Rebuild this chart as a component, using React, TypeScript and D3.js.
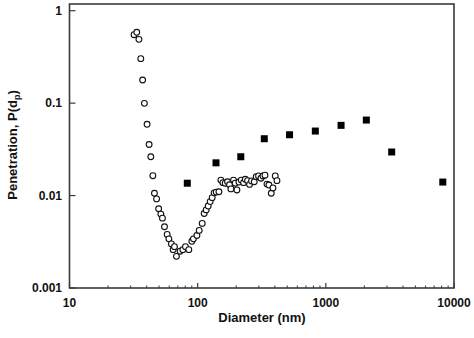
import React from "react";
import * as d3 from "d3";

const circleDiam = [31.9, 33.5, 34.8, 36.0, 37.2, 38.4, 40.3, 41.8, 43.1, 44.7, 46.0, 47.8, 49.6, 51.6, 53.1, 55.1, 57.8, 59.6, 62.4, 64.4, 65.9, 68.3, 73.0, 76.6, 80.3, 85.3, 90.1, 92.7, 98.6, 102.8, 108.5, 112.4, 116.5, 120.8, 125.2, 129.8, 134.5, 139.5, 146.5, 151.8, 157.4, 164.0, 171.0, 177.2, 181.7, 190.4, 196.3, 202.4, 209.9, 218.8, 228.1, 235.2, 245.0, 254.0, 263.2, 276.3, 286.4, 298.5, 311.6, 323.0, 335.1, 347.4, 359.9, 375.1, 386.9, 403.0, 415.5];
const circlePen = [0.550, 0.584, 0.490, 0.303, 0.178, 0.0995, 0.0590, 0.0357, 0.0263, 0.0164, 0.0106, 0.0092, 0.0072, 0.0063, 0.0057, 0.0046, 0.0038, 0.0034, 0.0030, 0.0026, 0.0028, 0.0022, 0.0025, 0.0026, 0.0028, 0.0026, 0.0032, 0.0034, 0.0037, 0.0042, 0.0050, 0.0064, 0.0070, 0.0077, 0.0086, 0.0095, 0.0107, 0.0109, 0.0110, 0.0147, 0.0138, 0.0136, 0.0141, 0.0131, 0.0118, 0.0147, 0.0136, 0.0115, 0.0140, 0.0147, 0.0138, 0.0150, 0.0145, 0.0132, 0.0144, 0.0141, 0.0160, 0.0163, 0.0154, 0.0163, 0.0166, 0.0133, 0.0130, 0.0106, 0.0121, 0.0163, 0.0145];

const squareDiam = [83, 139, 217, 331, 521, 828, 1315, 2070, 3265, 8177];
const squarePen = [0.0136, 0.0226, 0.0263, 0.0412, 0.0455, 0.0499, 0.0575, 0.0656, 0.0296, 0.0140];

const xTicks = [10, 100, 1000, 10000];
const xTickLabels = ["10", "100", "1000", "10000"];
const yTicks = [0.001, 0.01, 0.1, 1];
const yTickLabels = ["0.001", "0.01", "0.1", "1"];

const W = 474;
const H = 338;
const left = 69.5;
const right = 454;
const top = 4;
const bottom = 288;

export default function App() {
  const x = d3.scaleLog().domain([10, 10000]).range([left, right]);
  const y = d3.scaleLog().domain([0.001, 1]).range([bottom, 10.7]);
  const minorX: number[] = [];
  for (let dec = 10; dec < 10000; dec *= 10) {
    for (let k = 2; k <= 9; k++) minorX.push(dec * k);
  }
  const font = "Arial, 'Liberation Sans', sans-serif";
  const stroke = "#3a3a3a";
  return (
    <svg width={W} height={H} style={{ position: "absolute", left: 0, top: 0, background: "#fff" }}>
      <rect x={left} y={top} width={right - left} height={bottom - top} fill="none" stroke={stroke} strokeWidth={1.6} />
      {minorX.map((v, i) => (
        <line key={"mx" + i} x1={x(v)} x2={x(v)} y1={bottom} y2={bottom - 2.5} stroke={stroke} strokeWidth={1} />
      ))}
      {xTicks.map((v, i) => (
        <g key={"xt" + i}>
          <line x1={x(v)} x2={x(v)} y1={bottom} y2={bottom - 5} stroke={stroke} strokeWidth={1.2} />
          <text x={x(v)} y={307} textAnchor="middle" fontFamily={font} fontWeight="bold" fontSize={12} fill="#111">
            {xTickLabels[i]}
          </text>
        </g>
      ))}
      {yTicks.map((v, i) => (
        <g key={"yt" + i}>
          <line x1={left} x2={left + 6} y1={y(v)} y2={y(v)} stroke={stroke} strokeWidth={1.2} />
          <text x={62} y={y(v)} dy="0.35em" textAnchor="end" fontFamily={font} fontWeight="bold" fontSize={12} fill="#111">
            {yTickLabels[i]}
          </text>
        </g>
      ))}
      <text x={262} y={322} textAnchor="middle" fontFamily={font} fontWeight="bold" fontSize={13} fill="#111">
        Diameter (nm)
      </text>
      <text transform={`translate(17,145) rotate(-90)`} textAnchor="middle" fontFamily={font} fontWeight="bold" fontSize={13} fill="#111">
        Penetration, P(d<tspan fontSize={9} dy={3}>p</tspan><tspan dy={-3}>)</tspan>
      </text>
      {circleDiam.map((d, i) => (
        <circle key={"c" + i} cx={x(d)} cy={y(circlePen[i])} r={2.9} fill="#fff" stroke="#111" strokeWidth={1.1} />
      ))}
      {squareDiam.map((d, i) => (
        <rect key={"s" + i} x={x(d) - 3.5} y={y(squarePen[i]) - 3.5} width={7} height={7} fill="#000" />
      ))}
    </svg>
  );
}
